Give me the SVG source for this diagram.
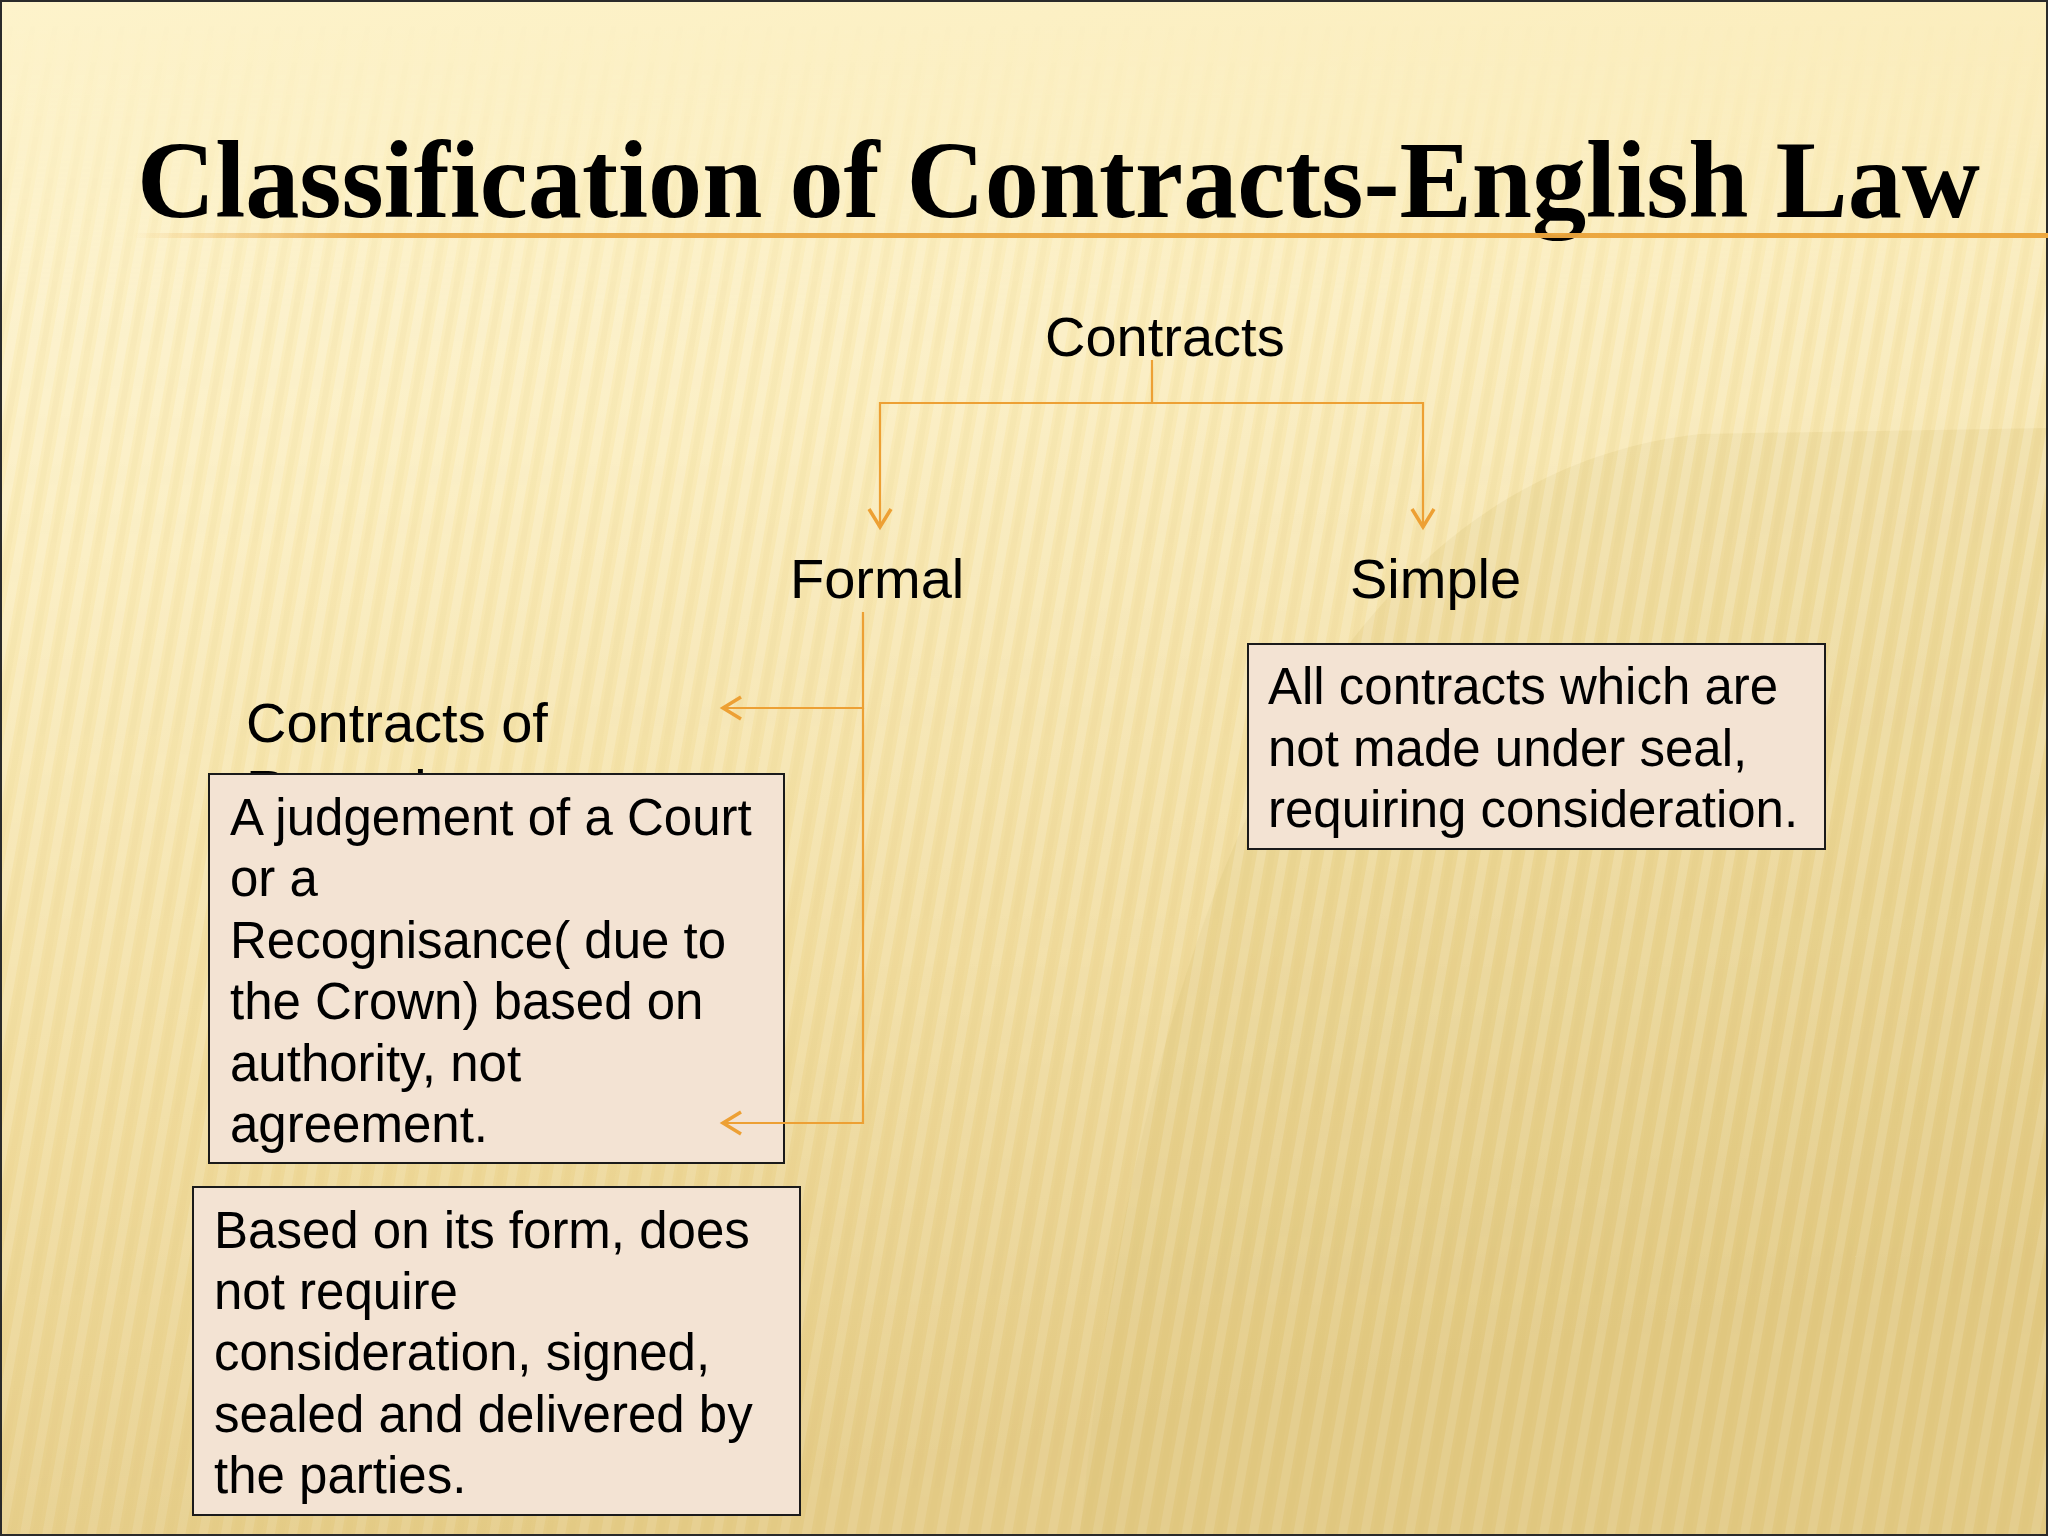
<svg xmlns="http://www.w3.org/2000/svg" width="2048" height="1536" viewBox="0 0 2048 1536">
  <defs>
    <linearGradient id="bg" x1="0" y1="0" x2="0.25" y2="1">
      <stop offset="0" stop-color="#FDF3CB"/>
      <stop offset="0.35" stop-color="#FAEBB8"/>
      <stop offset="0.7" stop-color="#F0DB9C"/>
      <stop offset="1" stop-color="#E4CB86"/>
    </linearGradient>
    <linearGradient id="fadeMask" x1="0" y1="0" x2="0" y2="1">
      <stop offset="0" stop-color="#fff" stop-opacity="0"/>
      <stop offset="0.06" stop-color="#fff" stop-opacity="0.2"/>
      <stop offset="0.2" stop-color="#fff" stop-opacity="1"/>
      <stop offset="1" stop-color="#fff" stop-opacity="0.5"/>
    </linearGradient>
    <mask id="stripeMask">
      <rect x="0" y="0" width="2048" height="1536" fill="url(#fadeMask)"/>
    </mask>
    <pattern id="stripes" width="22" height="22" patternUnits="userSpaceOnUse" patternTransform="rotate(10)">
      <rect x="0" y="0" width="9" height="22" fill="#FFFFFF" opacity="0.4"/>
      <rect x="12" y="0" width="6" height="22" fill="#C8A650" opacity="0.1"/>
    </pattern>
    <linearGradient id="titleLine" x1="133" y1="0" x2="2048" y2="0" gradientUnits="userSpaceOnUse">
      <stop offset="0" stop-color="#E9A23B" stop-opacity="0"/>
      <stop offset="0.12" stop-color="#E9A23B" stop-opacity="0.9"/>
      <stop offset="1" stop-color="#ECA73E"/>
    </linearGradient>
    <marker id="chev" markerWidth="26" markerHeight="28" refX="22" refY="13" orient="auto" markerUnits="userSpaceOnUse">
      <path d="M3,2 L21,13 L3,24" fill="none" stroke="#EDA034" stroke-width="3.5"/>
    </marker>
    <style>
      .lbl { font-family: "Liberation Sans", Arial, sans-serif; font-size: 56px; fill: #000; }
      .box { fill: #F3E3D3; stroke: #1A1A1A; stroke-width: 2; }
      .btxt { font-family: "Liberation Sans", Arial, sans-serif; font-size: 51px; fill: #000; }
      .conn { fill: none; stroke: #EDA034; stroke-width: 2.2; }
    </style>
  </defs>

  <!-- background -->
  <rect x="0" y="0" width="2048" height="1536" fill="url(#bg)"/>
  <path d="M1080 1536 C1150 800 1380 470 1700 434 L2048 428 L2048 1536 Z" fill="#D9BC6C" opacity="0.2"/>
  <rect x="0" y="0" width="2048" height="1536" fill="url(#stripes)" mask="url(#stripeMask)" opacity="0.5"/>
  <rect x="1" y="1" width="2046" height="1534" fill="none" stroke="#2A2A2A" stroke-width="2"/>

  <!-- title -->
  <g id="title">
    <text x="137" y="217" font-family="Liberation Serif, 'Times New Roman', serif" font-weight="bold" font-size="110" textLength="1843" lengthAdjust="spacingAndGlyphs" fill="#000">Classification of Contracts-English Law</text>
    <rect x="133" y="233" width="1915" height="5" fill="url(#titleLine)"/>
  </g>

  <!-- nodes -->
  <g id="node-contracts">
    <text class="lbl" x="1045" y="356">Contracts</text>
  </g>
  <g id="node-formal">
    <text class="lbl" x="790" y="598">Formal</text>
  </g>
  <g id="node-simple">
    <text class="lbl" x="1350" y="598">Simple</text>
  </g>
  <g id="node-record">
    <text class="lbl" x="246" y="742">Contracts of</text>
    <text class="lbl" x="246" y="809">Record</text>
  </g>
  <g id="node-record-desc">
    <rect class="box" x="209" y="774" width="575" height="389"/>
    <text class="btxt" x="230" y="835">A judgement of a Court</text>
    <text class="btxt" x="230" y="896">or a</text>
    <text class="btxt" x="230" y="958">Recognisance( due to</text>
    <text class="btxt" x="230" y="1019">the Crown) based on</text>
    <text class="btxt" x="230" y="1081">authority, not</text>
    <text class="btxt" x="230" y="1142">agreement.</text>
  </g>
  <g id="node-formal-desc">
    <rect class="box" x="193" y="1187" width="607" height="328"/>
    <text class="btxt" x="214" y="1248">Based on its form, does</text>
    <text class="btxt" x="214" y="1309">not require</text>
    <text class="btxt" x="214" y="1370">consideration, signed,</text>
    <text class="btxt" x="214" y="1432">sealed and delivered by</text>
    <text class="btxt" x="214" y="1493">the parties.</text>
  </g>
  <g id="node-simple-desc">
    <rect class="box" x="1248" y="644" width="577" height="205"/>
    <text class="btxt" x="1268" y="704">All contracts which are</text>
    <text class="btxt" x="1268" y="766">not made under seal,</text>
    <text class="btxt" x="1268" y="827">requiring consideration.</text>
  </g>

  <!-- connectors (drawn on top, as in the reference) -->
  <g id="connectors">
    <path class="conn" d="M1152 360 V403 H880 V528" marker-end="url(#chev)"/>
    <path class="conn" d="M1152 403 H1423 V528" marker-end="url(#chev)"/>
    <path class="conn" d="M863 612 V708 H722" marker-end="url(#chev)"/>
    <path class="conn" d="M863 708 V1123 H722" marker-end="url(#chev)"/>
  </g>
</svg>
